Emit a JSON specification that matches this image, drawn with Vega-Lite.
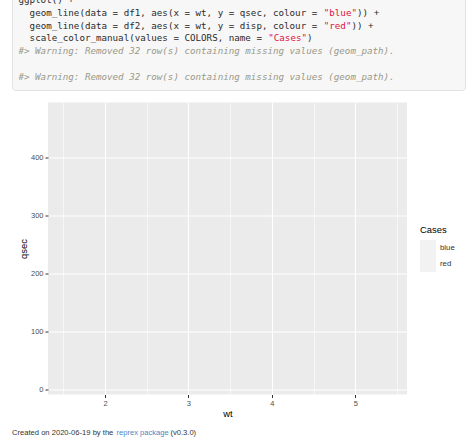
{
  "$schema": "https://vega.github.io/schema/vega-lite/v6.json",
  "description": "reprex output: ggplot code with warnings and an empty ggplot panel",
  "background": "white",
  "padding": {"left": 11, "top": -6, "right": 0, "bottom": 0},
  "columns": 1,
  "align": "none",
  "bounds": "full",
  "spacing": 11.5,
  "resolve": {"scale": {"color": "independent"}, "legend": {"color": "independent"}},
  "datasets": {
    "code": [
      {"line": 0, "col": 0, "text": "ggplot() +", "kind": "code"},
      {"line": 1, "col": 2, "text": "geom_line(data = df1, aes(x = wt, y = qsec, colour =", "kind": "code"},
      {"line": 1, "col": 55, "text": "\"blue\"", "kind": "string"},
      {"line": 1, "col": 61, "text": ")) +", "kind": "code"},
      {"line": 2, "col": 2, "text": "geom_line(data = df2, aes(x = wt, y = disp, colour =", "kind": "code"},
      {"line": 2, "col": 55, "text": "\"red\"", "kind": "string"},
      {"line": 2, "col": 60, "text": ")) +", "kind": "code"},
      {"line": 3, "col": 2, "text": "scale_color_manual(values = COLORS, name =", "kind": "code"},
      {"line": 3, "col": 45, "text": "\"Cases\"", "kind": "string"},
      {"line": 3, "col": 52, "text": ")", "kind": "code"},
      {"line": 4, "col": 0, "text": "#> Warning: Removed 32 row(s) containing missing values (geom_path).", "kind": "output"},
      {"line": 6, "col": 0, "text": "#> Warning: Removed 32 row(s) containing missing values (geom_path).", "kind": "output"}
    ],
    "cars": [
      {"wt": 2.62, "qsec": 16.46, "disp": 160},
      {"wt": 2.875, "qsec": 17.02, "disp": 160},
      {"wt": 2.32, "qsec": 18.61, "disp": 108},
      {"wt": 3.215, "qsec": 19.44, "disp": 258},
      {"wt": 3.44, "qsec": 17.02, "disp": 360},
      {"wt": 3.46, "qsec": 20.22, "disp": 225},
      {"wt": 3.57, "qsec": 15.84, "disp": 360},
      {"wt": 3.19, "qsec": 20.0, "disp": 146.7},
      {"wt": 3.15, "qsec": 22.9, "disp": 140.8},
      {"wt": 3.44, "qsec": 18.3, "disp": 167.6},
      {"wt": 3.44, "qsec": 18.9, "disp": 167.6},
      {"wt": 4.07, "qsec": 17.4, "disp": 275.8},
      {"wt": 3.73, "qsec": 17.6, "disp": 275.8},
      {"wt": 3.78, "qsec": 18.0, "disp": 275.8},
      {"wt": 5.25, "qsec": 17.98, "disp": 472},
      {"wt": 5.424, "qsec": 17.82, "disp": 460},
      {"wt": 5.345, "qsec": 17.42, "disp": 440},
      {"wt": 2.2, "qsec": 19.47, "disp": 78.7},
      {"wt": 1.615, "qsec": 18.52, "disp": 75.7},
      {"wt": 1.835, "qsec": 19.9, "disp": 71.1},
      {"wt": 2.465, "qsec": 20.01, "disp": 120.1},
      {"wt": 3.52, "qsec": 16.87, "disp": 318},
      {"wt": 3.435, "qsec": 17.3, "disp": 304},
      {"wt": 3.84, "qsec": 15.41, "disp": 350},
      {"wt": 3.845, "qsec": 17.05, "disp": 400},
      {"wt": 1.935, "qsec": 18.9, "disp": 79},
      {"wt": 2.14, "qsec": 16.7, "disp": 120.3},
      {"wt": 1.513, "qsec": 16.9, "disp": 95.1},
      {"wt": 3.17, "qsec": 14.5, "disp": 351},
      {"wt": 2.77, "qsec": 15.5, "disp": 145},
      {"wt": 3.57, "qsec": 14.6, "disp": 301},
      {"wt": 2.78, "qsec": 18.6, "disp": 121}
    ],
    "footer": [
      {"col": 0, "text": "Created on 2020-06-19 by the", "kind": "plain"},
      {"col": 29, "text": "reprex package", "kind": "link"},
      {"col": 44, "text": "(v0.3.0)", "kind": "plain"}
    ]
  },
  "concat": [
    {
      "width": 453,
      "height": 95,
      "view": {"fill": "#f7f7f7", "stroke": "#e2e2e2", "cornerRadius": 3},
      "data": {"name": "code"},
      "encoding": {
        "x": {"field": "col", "type": "quantitative", "scale": {"domain": [-1.171, 80.45], "nice": false, "zero": false}, "axis": null},
        "y": {"field": "line", "type": "quantitative", "scale": {"domain": [-0.425, 7.055], "nice": false, "zero": false, "reverse": true}, "axis": null},
        "text": {"field": "text", "type": "nominal"},
        "color": {"field": "kind", "type": "nominal", "scale": {"domain": ["code", "string", "output"], "range": ["#2b2b2b", "#dd1144", "#999988"]}, "legend": null}
      },
      "layer": [
        {
          "transform": [{"filter": "datum.kind !== 'output'"}],
          "mark": {"type": "text", "align": "left", "baseline": "middle", "font": "DejaVu Sans Mono", "fontSize": 9.2}
        },
        {
          "transform": [{"filter": "datum.kind === 'output'"}],
          "mark": {"type": "text", "align": "left", "baseline": "middle", "font": "DejaVu Sans Mono", "fontSize": 9.2, "fontStyle": "italic"}
        }
      ]
    },
    {
      "spacing": 0,
      "bounds": "full",
      "hconcat": [
        {
          "width": 5.1,
          "height": 1,
          "data": {"values": []},
          "mark": {"type": "point", "opacity": 0}
        },
        {
          "width": 359,
          "height": 292,
          "view": {"fill": "#ebebeb", "stroke": null},
          "data": {"name": "cars"},
          "encoding": {
            "x": {
              "field": "wt", "type": "quantitative",
              "scale": {"domain": [1.31745, 5.61955], "nice": false, "zero": false},
              "axis": {
                "title": "wt",
                "values": [1.5, 2, 2.5, 3, 3.5, 4, 4.5, 5, 5.5],
                "labelExpr": "datum.value % 1 === 0 ? format(datum.value, 'd') : ''",
                "gridWidth": {"condition": {"test": "datum.value % 1 !== 0", "value": 0.55}, "value": 1.1},
                "tickOpacity": {"condition": {"test": "datum.value % 1 !== 0", "value": 0}, "value": 1}
              }
            }
          },
          "layer": [
            {
              "mark": {"type": "line", "strokeOpacity": 0},
              "encoding": {
                "y": {
                  "field": "qsec", "type": "quantitative",
                  "scale": {"domain": [-8.375, 494.875], "nice": false, "zero": false},
                  "axis": {
                    "title": "qsec",
                    "values": [0, 50, 100, 150, 200, 250, 300, 350, 400, 450],
                    "labelExpr": "datum.value % 100 === 0 ? format(datum.value, 'd') : ''",
                    "gridWidth": {"condition": {"test": "datum.value % 100 !== 0", "value": 0.55}, "value": 1.1},
                    "tickOpacity": {"condition": {"test": "datum.value % 100 !== 0", "value": 0}, "value": 1}
                  }
                },
                "color": {
                  "datum": "blue", "type": "nominal",
                  "scale": {"domain": ["blue", "red"], "range": ["#0000ff", "#ff0000"]},
                  "legend": {
                    "title": "Cases",
                    "orient": "none",
                    "legendX": 408,
                    "legendY": 123.5,
                    "padding": 0,
                    "symbolType": "square",
                    "symbolSize": 256,
                    "symbolStrokeWidth": 0,
                    "rowPadding": 0,
                    "labelOffset": 4,
                    "titlePadding": 4.6,
                    "encode": {
                      "symbols": {"update": {"fill": {"value": "#f2f2f2"}, "stroke": {"value": "transparent"}, "opacity": {"value": 1}, "strokeOpacity": {"value": 0}, "fillOpacity": {"value": 1}}}
                    }
                  }
                }
              }
            },
            {
              "mark": {"type": "line", "strokeOpacity": 0},
              "encoding": {
                "y": {"field": "disp", "type": "quantitative", "axis": {"title": "qsec"}},
                "color": {"datum": "red", "type": "nominal"}
              }
            }
          ]
        }
      ]
    },
    {
      "width": 453,
      "height": 8,
      "data": {"name": "footer"},
      "mark": {"type": "text", "align": "left", "baseline": "middle", "font": "Liberation Sans", "fontSize": 7.6},
      "encoding": {
        "x": {"field": "col", "type": "quantitative", "scale": {"domain": [0, 125.83], "nice": false, "zero": false}, "axis": null},
        "text": {"field": "text", "type": "nominal"},
        "color": {"field": "kind", "type": "nominal", "scale": {"domain": ["plain", "link"], "range": ["#333333", "#4a86c5"]}, "legend": null}
      }
    }
  ],
  "config": {
    "view": {"stroke": null},
    "axis": {
      "domain": false,
      "grid": true,
      "gridColor": "#ffffff",
      "tickColor": "#333333",
      "tickSize": 3,
      "tickWidth": 1,
      "labelFont": "Liberation Sans",
      "labelFontSize": 7.5,
      "labelColor": "#4d4d4d",
      "labelPadding": 2,
      "labelFlush": false,
      "labelOverlap": false,
      "titleFont": "Liberation Sans",
      "titleFontSize": 9.4,
      "titleFontWeight": "normal",
      "titleColor": "#000000",
      "titlePadding": 2
    },
    "legend": {
      "titleFont": "Liberation Sans",
      "titleFontSize": 9.4,
      "titleFontWeight": "normal",
      "titleColor": "#000000",
      "labelFont": "Liberation Sans",
      "labelFontSize": 7.8,
      "labelColor": "#333333"
    }
  }
}
